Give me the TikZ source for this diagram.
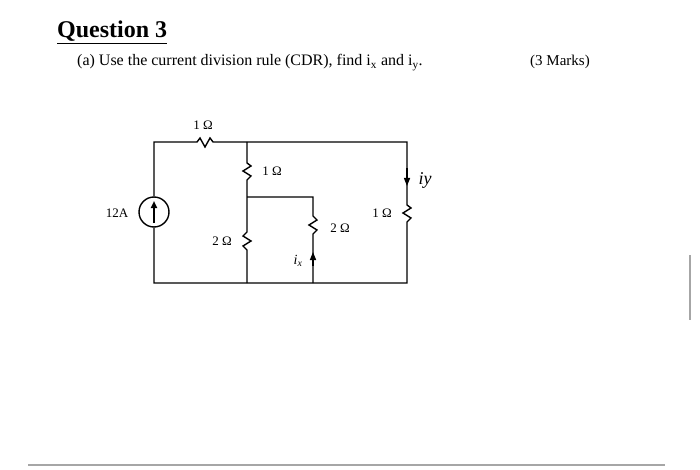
\documentclass[tikz,border=0pt]{standalone}
\usepackage{fontspec}
\setmainfont{Liberation Serif}
\usetikzlibrary{arrows.meta}
\begin{document}
\begin{tikzpicture}[x=1pt,y=-1pt,
 wire/.style={line width=1.4pt,line join=miter},
 lbl/.style={font=\fontsize{13}{13}\selectfont,inner sep=0pt},
 cur/.style={-{Triangle[length=8pt,width=6pt]},line width=1.4pt}]
\useasboundingbox (0,0) rectangle (700,470);
\node[anchor=base west,inner sep=0pt,font=\fontsize{24}{24}\selectfont\bfseries] (q) at (57,38) {\underline{Question 3}};
\node[anchor=base west,inner sep=0pt,font=\fontsize{16}{16}\selectfont] (a) at (77,66) {(a) Use the current division rule (CDR), find i\textsubscript{x} and i\textsubscript{y}.};
\node[anchor=base west,inner sep=0pt,font=\fontsize{15}{15}\selectfont] (m) at (530,66) {(3 Marks)};
% source
\node[circle,draw,line width=1.4pt,minimum size=30pt,inner sep=0pt] (s) at (154,212) {};
\draw[-{Triangle[length=7pt,width=6pt]},line width=2.4pt] (154,223) -- (154,201);
% wires
\draw[wire] (s.north) -- (154,142) -- (197,142) -- (200,138) -- (205,147) -- (210,138) -- (213,142) -- (407,142) -- (407,205) -- (411,208) -- (403,213) -- (411,218) -- (407,222) -- (407,283) -- (154,283) -- (s.south);
\draw[wire] (247,142) -- (247,163) -- (251,166) -- (243,171) -- (251,176) -- (247,180) -- (247,232) -- (243,236) -- (251,241) -- (243,246) -- (247,250) -- (247,283);
\draw[wire] (247,197) -- (313,197) -- (313,216) -- (317,220) -- (309,225) -- (317,230) -- (313,234) -- (313,283);
\coordinate (iy1) at (407,168); \coordinate (iy2) at (407,186);
\draw[cur] (iy1) -- (iy2);
\coordinate (ix1) at (313,266); \coordinate (ix2) at (313,252);
\draw[cur] (ix1) -- (ix2);
% labels
\node[lbl] (r1) at (203,125) {1 Ω};
\node[lbl] (r2) at (272,171) {1 Ω};
\node[lbl] (r3) at (222,241) {2 Ω};
\node[lbl] (r4) at (340,228) {2 Ω};
\node[lbl] (r5) at (382,213) {1 Ω};
\node[lbl] (src) at (117,213) {12A};
\node[inner sep=0pt,font=\fontsize{18}{18}\selectfont\itshape] (ly) at (425,180) {iy};
\node[inner sep=0pt,font=\fontsize{14}{14}\selectfont\itshape] (lx) at (298,261) {i\textsubscript{x}};
% gray lines
\draw[gray!70,line width=1.5pt] (28,465) -- (665,465);
\draw[gray!70,line width=1.5pt] (690,255) -- (690,320);
\end{tikzpicture}
\end{document}
